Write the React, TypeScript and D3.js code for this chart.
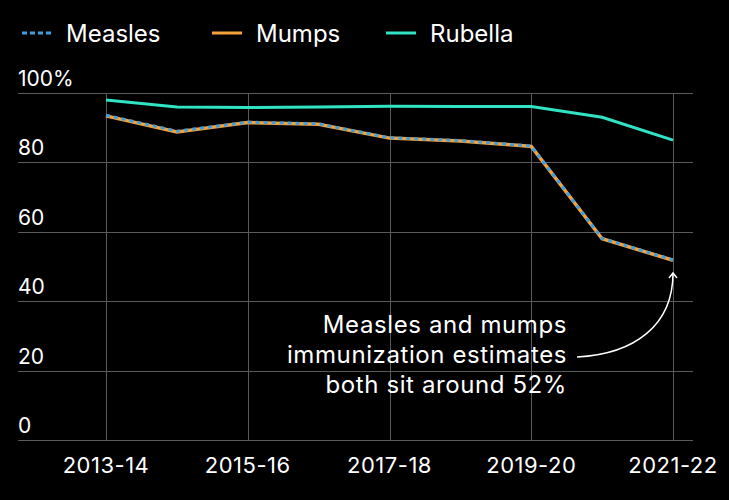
import React, { useEffect, useRef } from 'react';
import * as d3 from 'd3';

const years = ['2013-14', '2014-15', '2015-16', '2016-17', '2017-18', '2018-19', '2019-20', '2020-21', '2021-22'];
const tickYears = ['2013-14', '2015-16', '2017-18', '2019-20', '2021-22'];
const yTicks = [0, 20, 40, 60, 80, 100];

const measles = [93.6, 89.0, 91.6, 91.1, 87.1, 86.3, 84.7, 58.1, 51.9];
const mumps = [93.4, 88.8, 91.5, 91.0, 87.0, 86.2, 84.6, 58.0, 51.8];
const rubella = [98.0, 96.0, 95.8, 96.0, 96.2, 96.1, 96.1, 93.0, 86.4];

const annotationLines = ['Measles and mumps', 'immunization estimates', 'both sit around 52%'];

const BLUE = '#3d9fe0';
const ORANGE = '#f4a23c';
const TEAL = '#2fe3c3';

const App = () => {
    const svgRef = useRef<SVGSVGElement>(null);

    useEffect(() => {
        const svg = d3.select(svgRef.current);
        svg.selectAll('*').remove();

        const width = 729;
        const height = 500;
        const font = 'Inter, "Noto Sans", sans-serif';

        svg.append('rect').attr('width', width).attr('height', height).attr('fill', '#000');

        const x = d3.scalePoint<string>().domain(years).range([106, 673]);
        const y = d3.scaleLinear().domain([0, 100]).range([440, 93]);

        // grid
        const grid = svg.append('g').attr('stroke', '#5a5a5a').attr('stroke-width', 1);
        grid.selectAll('.h')
            .data(yTicks)
            .enter()
            .append('line')
            .attr('x1', 18)
            .attr('x2', 693)
            .attr('y1', d => Math.round(y(d)) + 0.5)
            .attr('y2', d => Math.round(y(d)) + 0.5);
        grid.selectAll('.v')
            .data(tickYears)
            .enter()
            .append('line')
            .attr('x1', d => Math.round(x(d)!) + 0.5)
            .attr('x2', d => Math.round(x(d)!) + 0.5)
            .attr('y1', y(100))
            .attr('y2', y(0));

        // y labels
        svg.append('g')
            .selectAll('text')
            .data(yTicks)
            .enter()
            .append('text')
            .attr('x', 18)
            .attr('y', d => y(d) - 7)
            .attr('fill', '#fff')
            .attr('font-family', font)
            .attr('font-size', 21)
            .text(d => (d === 100 ? '100%' : String(d)));

        // x labels
        svg.append('g')
            .selectAll('text')
            .data(tickYears)
            .enter()
            .append('text')
            .attr('x', d => x(d)!)
            .attr('y', 473)
            .attr('text-anchor', 'middle')
            .attr('fill', '#fff')
            .attr('font-family', font)
            .attr('font-size', 22)
            .attr('letter-spacing', 0.5)
            .text(d => d);

        const line = d3.line<number>()
            .x((_, i) => x(years[i])!)
            .y(d => y(d));

        svg.append('path')
            .datum(rubella)
            .attr('d', line)
            .attr('fill', 'none')
            .attr('stroke', TEAL)
            .attr('stroke-width', 3);

        svg.append('path')
            .datum(mumps)
            .attr('d', line)
            .attr('fill', 'none')
            .attr('stroke', ORANGE)
            .attr('stroke-width', 3.5);

        svg.append('path')
            .datum(measles)
            .attr('d', line)
            .attr('fill', 'none')
            .attr('stroke', BLUE)
            .attr('stroke-width', 3)
            .attr('stroke-dasharray', '4 4');

        // legend
        const legend = [
            { name: 'Measles', color: BLUE, dash: '5 3', x: 22 },
            { name: 'Mumps', color: ORANGE, dash: null, x: 212 },
            { name: 'Rubella', color: TEAL, dash: null, x: 386 },
        ];
        const lg = svg.append('g').selectAll('g').data(legend).enter().append('g');
        lg.append('line')
            .attr('x1', d => d.x)
            .attr('x2', d => d.x + 30)
            .attr('y1', 33)
            .attr('y2', 33)
            .attr('stroke', d => d.color)
            .attr('stroke-width', 3)
            .attr('stroke-dasharray', d => d.dash);
        lg.append('text')
            .attr('x', d => d.x + 44)
            .attr('y', 42)
            .attr('fill', '#fff')
            .attr('font-family', font)
            .attr('font-size', 24)
            .text(d => d.name);

        // annotation
        svg.append('g')
            .selectAll('text')
            .data(annotationLines)
            .enter()
            .append('text')
            .attr('x', 567)
            .attr('y', (_, i) => 333 + i * 30)
            .attr('text-anchor', 'end')
            .attr('fill', '#fff')
            .attr('font-family', font)
            .attr('font-size', 24)
            .attr('letter-spacing', 0.6)
            .text(d => d);

        const tipX = x('2021-22')!;
        const tipY = y(measles[8]) + 13;
        svg.append('path')
            .attr('d', `M577,357 C635,354 ${tipX},325 ${tipX},${tipY}`)
            .attr('fill', 'none')
            .attr('stroke', '#fff')
            .attr('stroke-width', 1.5);
        svg.append('path')
            .attr('d', `M${tipX - 4},${tipY + 5} L${tipX},${tipY} L${tipX + 4},${tipY + 5}`)
            .attr('fill', 'none')
            .attr('stroke', '#fff')
            .attr('stroke-width', 1.5);
    }, []);

    return (
        <div style={{ position: 'fixed', left: 0, top: 0 }}>
            <svg ref={svgRef} width={729} height={500} />
        </div>
    );
};

export default App;
